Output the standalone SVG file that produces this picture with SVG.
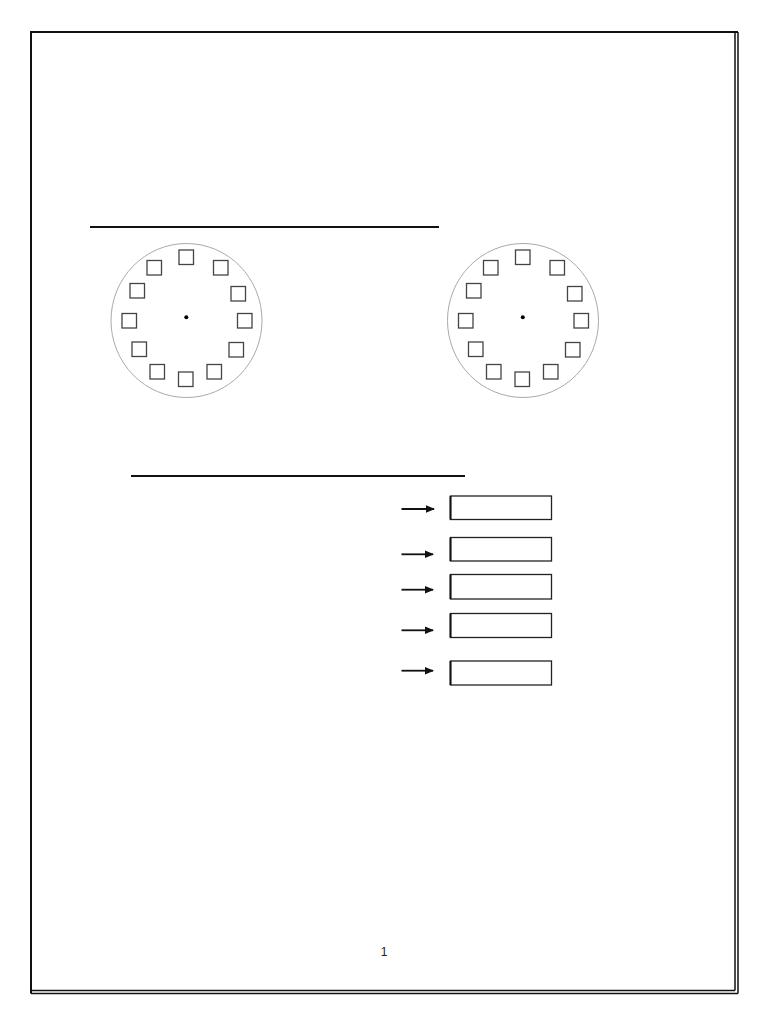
<svg xmlns="http://www.w3.org/2000/svg" width="768" height="1024" viewBox="0 0 768 1024">
<style>
.frame{fill:none;stroke:#111;}
.rule{stroke:#111;stroke-width:2;}
.face{fill:#fff;stroke:#aaa;stroke-width:1;}
.sq{fill:#fff;stroke:#444;stroke-width:1.3;}
.box{fill:#fff;stroke:#222;stroke-width:1.3;}
.arr{stroke:#111;stroke-width:1.8;fill:none;}
.num{font-family:"Liberation Sans",Arial,sans-serif;font-size:12px;fill:#222;}
</style>
<defs>
<marker id="ah" markerWidth="9" markerHeight="9" refX="8" refY="4.5" orient="auto" markerUnits="userSpaceOnUse">
<path d="M0,0.8 L9,4.5 L0,8.2 Z" fill="#111"/>
</marker>
<g id="clockface">
<ellipse class="face" cx="186.5" cy="320.5" rx="75.5" ry="77"/>
<circle cx="186.3" cy="317.3" r="2" fill="#000"/>
<rect class="sq" x="179" y="250" width="14.5" height="14.5"/>
<rect class="sq" x="213.5" y="260.5" width="14.5" height="14.5"/>
<rect class="sq" x="231" y="286.5" width="14.5" height="14.5"/>
<rect class="sq" x="237.5" y="313.5" width="14.5" height="14.5"/>
<rect class="sq" x="229" y="342.5" width="14.5" height="14.5"/>
<rect class="sq" x="207" y="364.5" width="14.5" height="14.5"/>
<rect class="sq" x="178.5" y="372" width="14.5" height="14.5"/>
<rect class="sq" x="150" y="364.5" width="14.5" height="14.5"/>
<rect class="sq" x="132" y="342" width="14.5" height="14.5"/>
<rect class="sq" x="122" y="313.5" width="14.5" height="14.5"/>
<rect class="sq" x="130" y="283.5" width="14.5" height="14.5"/>
<rect class="sq" x="147" y="260.5" width="14.5" height="14.5"/>
</g>
</defs>
<rect x="0" y="0" width="768" height="1024" fill="#fff"/>
<g id="page-border">
<path class="frame" stroke-width="2" d="M31,993.5 L31,32 L738,32"/>
<line class="frame" stroke-width="1.5" x1="735" y1="32" x2="735" y2="990.5"/>
<line class="frame" stroke-width="1.5" x1="738" y1="32" x2="738" y2="993.5"/>
<line class="frame" stroke-width="1.5" x1="31" y1="990.5" x2="735" y2="990.5"/>
<line class="frame" stroke-width="1.5" x1="31" y1="993.5" x2="738" y2="993.5"/>
</g>
<g id="rule-1"><line class="rule" x1="90" y1="227" x2="439" y2="227"/></g>
<g id="clock-1"><use href="#clockface"/></g>
<g id="clock-2"><use href="#clockface" transform="translate(336.5,0)"/></g>
<g id="rule-2"><line class="rule" x1="131" y1="476" x2="465" y2="476"/></g>
<g id="box-1"><rect class="box" x="450.5" y="496" width="101" height="23.5"/><line x1="450.5" y1="496" x2="450.5" y2="519.5" stroke="#111" stroke-width="2"/></g>
<g id="box-2"><rect class="box" x="450.5" y="537.5" width="101" height="23.5"/><line x1="450.5" y1="537.5" x2="450.5" y2="561" stroke="#111" stroke-width="2"/></g>
<g id="box-3"><rect class="box" x="450.5" y="574.5" width="101" height="24.5"/><line x1="450.5" y1="574.5" x2="450.5" y2="599" stroke="#111" stroke-width="2"/></g>
<g id="box-4"><rect class="box" x="450.5" y="613.5" width="101" height="24"/><line x1="450.5" y1="613.5" x2="450.5" y2="637.5" stroke="#111" stroke-width="2"/></g>
<g id="box-5"><rect class="box" x="450.5" y="661" width="101" height="24"/><line x1="450.5" y1="661" x2="450.5" y2="685" stroke="#111" stroke-width="2"/></g>
<g id="connectors">
<line class="arr" x1="401.5" y1="509" x2="434" y2="509" marker-end="url(#ah)"/>
<line class="arr" x1="401.5" y1="554.3" x2="433" y2="554.3" marker-end="url(#ah)"/>
<line class="arr" x1="401.5" y1="589.7" x2="433" y2="589.7" marker-end="url(#ah)"/>
<line class="arr" x1="401.5" y1="630.3" x2="433" y2="630.3" marker-end="url(#ah)"/>
<line class="arr" x1="401.5" y1="670.7" x2="433" y2="670.7" marker-end="url(#ah)"/>
</g>
<g id="page-number"><text class="num" x="384" y="956" text-anchor="middle">1</text></g>
</svg>
